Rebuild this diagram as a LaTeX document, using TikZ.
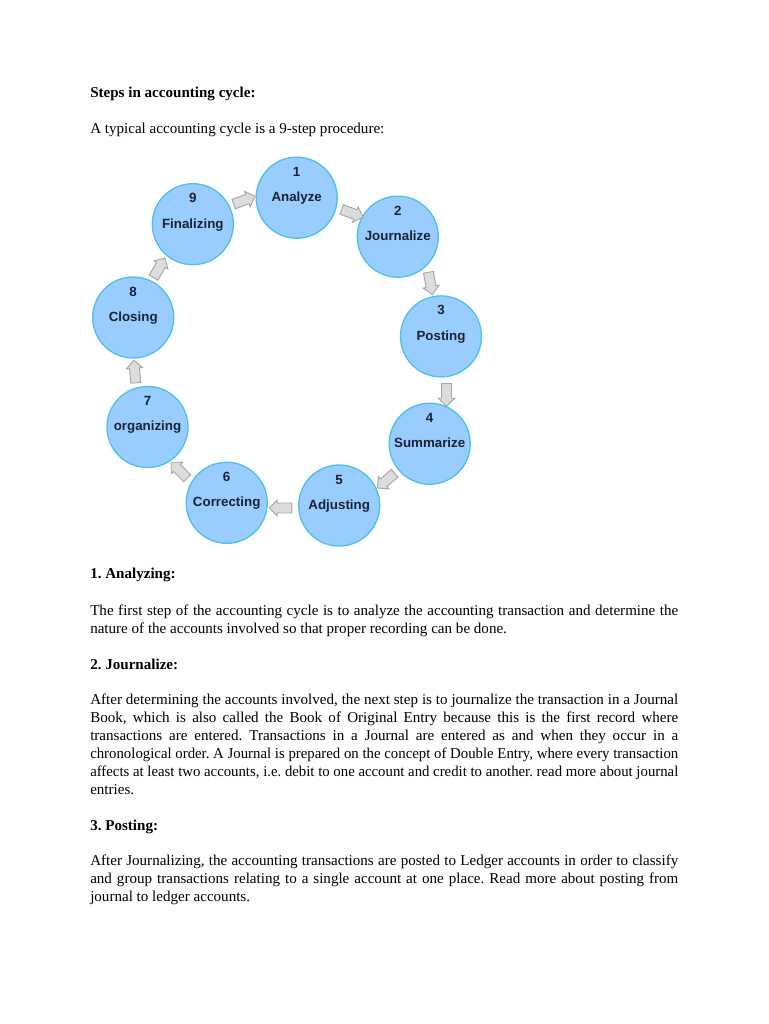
\documentclass[tikz,border=0pt]{standalone}
\usepackage{graphicx}
\usepackage{fontspec}
\setmainfont{Liberation Serif}
\newfontfamily\arialfont{Liberation Sans}
\usetikzlibrary{shapes.arrows}
\definecolor{circfill}{HTML}{99CCFF}
\definecolor{circline}{HTML}{4FC1E9}
\definecolor{arrfill}{HTML}{DCDCDC}
\definecolor{arrline}{HTML}{A6A6A6}
\definecolor{circtext}{HTML}{1A2233}
\newcommand\bodyfont{\fontsize{11.3}{13.3}\selectfont\frenchspacing}
\newsavebox\jbox
\newcommand\jline[1]{\sbox\jbox{#1}\ifdim\wd\jbox>441pt\relax\resizebox{441pt}{\ht\jbox}{\usebox\jbox}\else\makebox[441pt][s]{#1}\fi}
\tikzset{
  stepcircle/.style={circle, draw=circline, line width=1pt, fill=circfill, minimum size=60.75pt, inner sep=0pt},
  steptext/.style={font=\arialfont\bfseries\fontsize{10}{12}\selectfont, text=circtext, anchor=base, inner sep=0pt},
  blockarrow/.style={single arrow, draw=arrline, fill=arrfill, line width=0.7pt, minimum height=17pt, minimum width=0pt, inner xsep=0pt, inner ysep=3.4pt, single arrow head extend=2.3pt},
  bodyline/.style={anchor=base west, inner sep=0pt, font=\bodyfont},
  headline/.style={anchor=base west, inner sep=0pt, font=\bodyfont\bfseries}
}
\begin{document}
\begin{tikzpicture}[x=0.75pt,y=-0.75pt]
\fill[white] (0,0) rectangle (768,1024);
\useasboundingbox (0,0) rectangle (768,1024);

% headings at top
\node[headline] (h0) at (90,98) {Steps in accounting cycle:};
\node[bodyline] (p0) at (90,133.5) {A typical accounting cycle is a 9-step procedure:};

% circles
\foreach \i/\x/\y/\name in {1/296.7/197.7/Analyze, 2/397.8/236.7/Journalize, 3/441/336.4/Posting, 4/429.7/443.7/Summarize, 5/339.2/505.5/Adjusting, 6/226.7/502.8/Correcting, 7/147.5/427/organizing, 8/133.2/317.5/Closing, 9/192.8/224.2/Finalizing}{
  \node[stepcircle] (c\i) at (\x,\y) {};
  \node[steptext] (n\i) at (\x,\y-21.5) {\i};
  \node[steptext] (t\i) at (\x,\y+3.8) {\name};
}

% block arrows
\node[blockarrow, rotate=20]   (a91) at (242,201) {};
\node[blockarrow, rotate=-20]  (a12) at (350,212.5) {};
\node[blockarrow, rotate=-80]  (a23) at (430,281) {};
\node[blockarrow, rotate=-90]  (a34) at (446.5,392.5) {};
\node[blockarrow, rotate=-140] (a45) at (388,479) {};
\node[blockarrow, rotate=180]  (a56) at (283,508) {};
\node[blockarrow, rotate=135]  (a67) at (181,472) {};
\node[blockarrow, rotate=95]   (a78) at (135,374) {};
\node[blockarrow, rotate=60]   (a89) at (158,270) {};

% section 1
\node[headline] (h1) at (90,578.5) {1. Analyzing:};
\node[bodyline] (p1a) at (90,615) {\jline{The first step of the accounting cycle is to analyze the accounting transaction and determine the}};
\node[bodyline] (p1b) at (90,633) {nature of the accounts involved so that proper recording can be done.};

% section 2
\node[headline] (h2) at (90,669) {2. Journalize:};
\node[bodyline] (p2a) at (90,704) {\jline{After determining the accounts involved, the next step is to journalize the transaction in a Journal}};
\node[bodyline] (p2b) at (90,722) {\jline{Book, which is also called the Book of Original Entry because this is the first record where}};
\node[bodyline] (p2c) at (90,740) {\jline{transactions are entered. Transactions in a Journal are entered as and when they occur in a}};
\node[bodyline] (p2d) at (90,758) {\jline{chronological order. A Journal is prepared on the concept of Double Entry, where every transaction}};
\node[bodyline] (p2e) at (90,776) {\jline{affects at least two accounts, i.e. debit to one account and credit to another. read more about journal}};
\node[bodyline] (p2f) at (90,794) {entries.};

% section 3
\node[headline] (h3) at (90,830) {3. Posting:};
\node[bodyline] (p3a) at (90,865) {\jline{After Journalizing, the accounting transactions are posted to Ledger accounts in order to classify}};
\node[bodyline] (p3b) at (90,883) {\jline{and group transactions relating to a single account at one place. Read more about posting from}};
\node[bodyline] (p3c) at (90,901) {journal to ledger accounts.};
\end{tikzpicture}
\end{document}
